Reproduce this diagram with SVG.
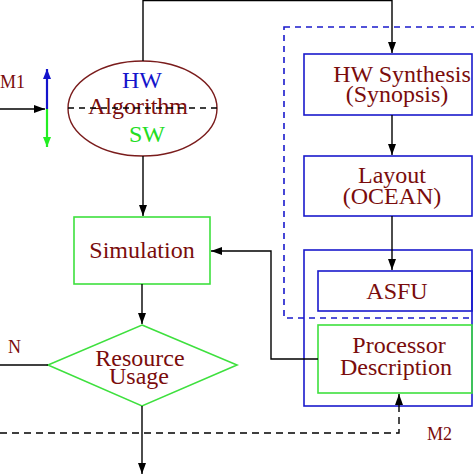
<svg xmlns="http://www.w3.org/2000/svg" width="474" height="474" viewBox="0 0 474 474">
<style>
text{font-family:"Liberation Serif","Times New Roman",serif;fill:#7a0c0c;text-anchor:middle}
.lbl{font-size:24px}
.sm{font-size:18px;text-anchor:start}
.g{fill:none;stroke:#3ee03e;stroke-width:1.6}
.b{fill:none;stroke:#1a1acc;stroke-width:1.6}
.c{fill:none;stroke:#000;stroke-width:1.4}
.d{fill:none;stroke:#000;stroke-width:1.4;stroke-dasharray:7 5}
</style>
<defs>
<marker id="ah" markerWidth="11" markerHeight="8" refX="11" refY="4" orient="auto" markerUnits="userSpaceOnUse"><path d="M0,0 L11,4 L0,8 Z" fill="#000"/></marker>
<marker id="ahb" markerWidth="10" markerHeight="8" refX="10" refY="4" orient="auto" markerUnits="userSpaceOnUse"><path d="M0,0 L10,4 L0,8 Z" fill="#1414cc"/></marker>
<marker id="ahg" markerWidth="10" markerHeight="8" refX="10" refY="4" orient="auto" markerUnits="userSpaceOnUse"><path d="M0,0 L10,4 L0,8 Z" fill="#22ee22"/></marker>
</defs>
<rect x="0" y="0" width="474" height="474" fill="#fff"/>
<g id="hwblock">
<rect x="284" y="27" width="200" height="291" fill="none" stroke="#1a1acc" stroke-width="1.6" stroke-dasharray="6 5"/>
</g>
<g id="outerbox"><rect class="b" x="304" y="250" width="168" height="156"/></g>
<g id="algorithm">
<ellipse cx="142.5" cy="108.5" rx="74.5" ry="47.5" fill="none" stroke="#7a1c1c" stroke-width="1.4"/>
<text class="lbl" x="142" y="88" style="fill:#1414cc">HW</text>
<text class="lbl" x="138" y="114">Algorithm</text>
<line x1="68" y1="108" x2="217" y2="108" stroke="#000" stroke-width="1.4" stroke-dasharray="6 5"/>
<text class="lbl" x="147" y="142" style="fill:#22dd22">SW</text>
</g>
<g id="simulation">
<rect class="g" x="74" y="217" width="136" height="67"/>
<text class="lbl" x="142" y="258">Simulation</text>
</g>
<g id="resource">
<polygon class="g" points="142,325 237,365 142,406 48,365"/>
<text class="lbl" y="366"><tspan x="140">Resource</tspan><tspan x="139" dy="18">Usage</tspan></text>
</g>
<g id="hwsynth">
<rect class="b" x="304" y="54" width="168" height="61"/>
<text class="lbl" y="82"><tspan x="402">HW Synthesis</tspan><tspan x="397" dy="20">(Synopsis)</tspan></text>
</g>
<g id="layout">
<rect class="b" x="304" y="156" width="168" height="60"/>
<text class="lbl" y="183"><tspan x="392">Layout</tspan><tspan x="392" dy="21">(OCEAN)</tspan></text>
</g>
<g id="asfu">
<rect class="b" x="318" y="271" width="154" height="40"/>
<text class="lbl" x="397" y="299">ASFU</text>
</g>
<g id="procdesc">
<rect class="g" x="318" y="325" width="154" height="68"/>
<text class="lbl" y="353"><tspan x="399">Processor</tspan><tspan x="396" dy="22">Description</tspan></text>
</g>
<g id="connectors">
<path class="c" d="M143,61 V0.5 H392 V53" marker-end="url(#ah)"/>
<path class="c" d="M143,156 V216" marker-end="url(#ah)"/>
<path class="c" d="M142,284 V324" marker-end="url(#ah)"/>
<path class="c" d="M392,115 V155" marker-end="url(#ah)"/>
<path class="c" d="M392,216 V270" marker-end="url(#ah)"/>
<path class="c" d="M318,359 H271 V251 H211" marker-end="url(#ah)"/>
<path class="c" d="M0,109 H45" marker-end="url(#ah)"/>
<path d="M47,109 V69" fill="none" stroke="#1414cc" stroke-width="2.2" marker-end="url(#ahb)"/>
<path d="M47,109 V147" fill="none" stroke="#22ee22" stroke-width="2.2" marker-end="url(#ahg)"/>
<path class="c" d="M0,365 H48"/>
<path class="c" d="M142,406 V474" marker-end="url(#ah)"/>
<path class="d" d="M0,433 H399 V394" marker-end="url(#ah)"/>
</g>
<g id="labels">
<text class="sm" x="0" y="88">M1</text>
<text class="sm" x="8" y="353">N</text>
<text class="sm" x="427" y="440">M2</text>
</g>
</svg>
